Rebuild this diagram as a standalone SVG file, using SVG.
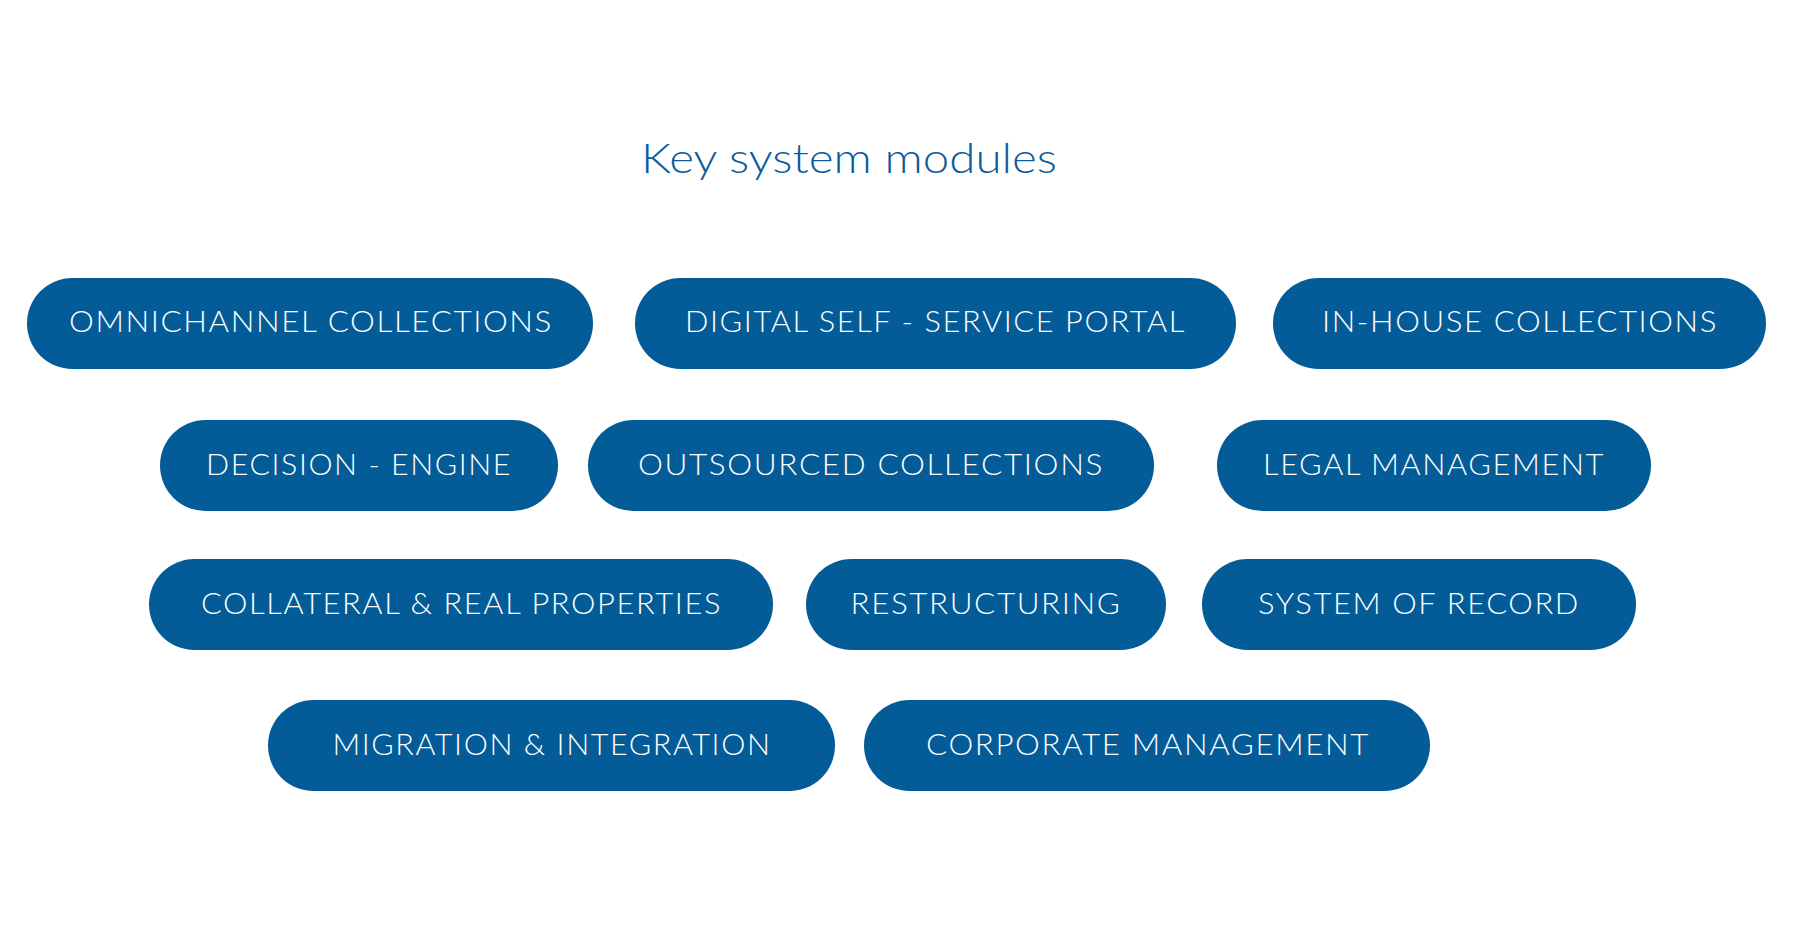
<svg xmlns="http://www.w3.org/2000/svg" width="1800" height="942" viewBox="0 0 1800 942">
<style>
.pill{fill:#035C97;}
.lbl{font-family:"Lato","Open Sans","Liberation Sans",sans-serif;font-weight:300;font-size:29px;fill:#FFFFFF;text-anchor:middle;letter-spacing:1.5px;}
.title{font-family:"Lato","Open Sans","Liberation Sans",sans-serif;font-weight:300;font-size:42px;fill:#0B5C9C;text-anchor:middle;}
</style>
<rect width="1800" height="942" fill="#FFFFFF"/>
<text class="title" x="849" y="173" textLength="416" lengthAdjust="spacingAndGlyphs">Key system modules</text>
<g id="omnichannel"><rect class="pill" x="27" y="278" width="566" height="91" rx="45.5"/><text class="lbl" x="311" y="332" textLength="484" lengthAdjust="spacingAndGlyphs">OMNICHANNEL COLLECTIONS</text></g>
<g id="digital-self-service"><rect class="pill" x="635" y="278" width="601" height="91" rx="45.5"/><text class="lbl" x="935.5" y="332" textLength="501" lengthAdjust="spacingAndGlyphs">DIGITAL SELF - SERVICE PORTAL</text></g>
<g id="in-house"><rect class="pill" x="1273" y="278" width="493" height="91" rx="45.5"/><text class="lbl" x="1520" y="332" textLength="396" lengthAdjust="spacingAndGlyphs">IN-HOUSE COLLECTIONS</text></g>
<g id="decision-engine"><rect class="pill" x="160" y="420" width="398" height="91" rx="45.5"/><text class="lbl" x="359" y="474.5" textLength="306" lengthAdjust="spacingAndGlyphs">DECISION - ENGINE</text></g>
<g id="outsourced"><rect class="pill" x="588" y="420" width="566" height="91" rx="45.5"/><text class="lbl" x="871" y="474.5" textLength="466" lengthAdjust="spacingAndGlyphs">OUTSOURCED COLLECTIONS</text></g>
<g id="legal"><rect class="pill" x="1217" y="420" width="434" height="91" rx="45.5"/><text class="lbl" x="1434" y="474.5" textLength="342" lengthAdjust="spacingAndGlyphs">LEGAL MANAGEMENT</text></g>
<g id="collateral"><rect class="pill" x="149" y="559" width="624" height="91" rx="45.5"/><text class="lbl" x="461.5" y="613.5" textLength="521" lengthAdjust="spacingAndGlyphs">COLLATERAL &amp; REAL PROPERTIES</text></g>
<g id="restructuring"><rect class="pill" x="806" y="559" width="360" height="91" rx="45.5"/><text class="lbl" x="986" y="613.5" textLength="271" lengthAdjust="spacingAndGlyphs">RESTRUCTURING</text></g>
<g id="system-of-record"><rect class="pill" x="1202" y="559" width="434" height="91" rx="45.5"/><text class="lbl" x="1419" y="613.5" textLength="322" lengthAdjust="spacingAndGlyphs">SYSTEM OF RECORD</text></g>
<g id="migration"><rect class="pill" x="268" y="700" width="567" height="91" rx="45.5"/><text class="lbl" x="552" y="754.5" textLength="439" lengthAdjust="spacingAndGlyphs">MIGRATION &amp; INTEGRATION</text></g>
<g id="corporate"><rect class="pill" x="864" y="700" width="566" height="91" rx="45.5"/><text class="lbl" x="1148" y="754.5" textLength="444" lengthAdjust="spacingAndGlyphs">CORPORATE MANAGEMENT</text></g>
<g id="connectors"></g>
</svg>
